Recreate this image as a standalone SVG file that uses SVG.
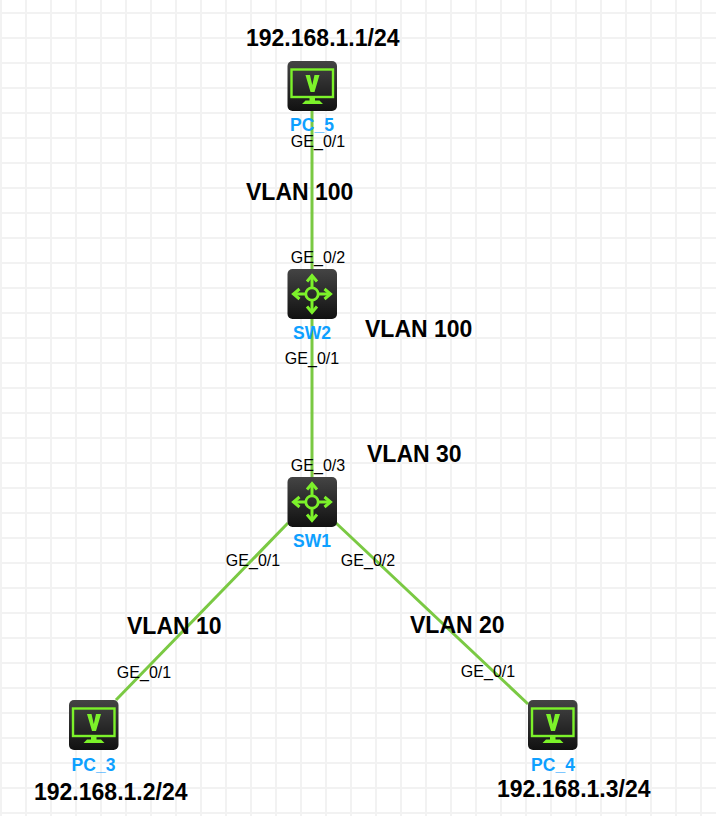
<svg xmlns="http://www.w3.org/2000/svg" xmlns:xlink="http://www.w3.org/1999/xlink" width="716" height="816" viewBox="0 0 716 816">
<style>
.b{font:bold 23px "Liberation Sans",Arial,sans-serif;fill:#000}
.p{font:16px "Liberation Sans",Arial,sans-serif;fill:#000;text-anchor:middle}
.n{font:bold 17.500px "Liberation Sans",Arial,sans-serif;fill:#0ea0ff;text-anchor:middle}
.l{stroke:#7ac943;stroke-width:3;fill:none}
.g{stroke:#f2f2f2;stroke-width:2;fill:none}
.i{stroke:#7cf22a;fill:none}
.f{fill:#7cf22a}
</style>
<defs>
<linearGradient id="bg" x1="0" y1="0" x2="0" y2="1"><stop offset="0" stop-color="#444"/><stop offset="1" stop-color="#111"/></linearGradient>
<path id="grid" d="M1 0V816M26 0V816M51 0V816M76 0V816M101 0V816M126 0V816M151 0V816M176 0V816M201 0V816M226 0V816M251 0V816M276 0V816M301 0V816M326 0V816M351 0V816M376 0V816M401 0V816M426 0V816M451 0V816M476 0V816M501 0V816M526 0V816M551 0V816M576 0V816M601 0V816M626 0V816M651 0V816M676 0V816M701 0V816M0 13H716M0 38H716M0 63H716M0 88H716M0 113H716M0 138H716M0 163H716M0 188H716M0 213H716M0 238H716M0 263H716M0 288H716M0 313H716M0 338H716M0 363H716M0 388H716M0 413H716M0 438H716M0 463H716M0 488H716M0 513H716M0 538H716M0 563H716M0 588H716M0 613H716M0 638H716M0 663H716M0 688H716M0 713H716M0 738H716M0 763H716M0 788H716M0 813H716"/>
<g id="pc"><rect width="49.500" height="50" rx="5" fill="url(#bg)"/><rect x="4" y="8.500" width="41.500" height="27.500" class="i" stroke-width="2.400"/><path class="f" d="M18 14H22.500L24.800 24L27 14H32L27 31H23ZM14.500 43H35.500L32 39.500H27.500V37H22V39.500H18Z"/></g>
<g id="sw"><rect width="49.500" height="50" rx="5" fill="url(#bg)"/><circle cx="24.500" cy="25" r="6.200" class="i" stroke-width="2.800"/><path class="i" stroke-width="3" d="M24.500 18V8M24.500 32V42M17.500 25H8M31.500 25H41"/><path class="i" stroke-width="3" stroke-linejoin="miter" d="M19.500 12.500L24.500 6.500L29.500 12.500M19.500 37.500L24.500 43.500L29.500 37.500M12 20L6 25L12 30M37 20L43 25L37 30"/></g>
</defs>
<use href="#grid" class="g"/>
<g id="connectors">
<path class="l" d="M312 111V269"/>
<path class="l" d="M312 319V477"/>
<path class="l" d="M288 523L116 700"/>
<path class="l" d="M336 523L528 704"/>
</g>
<g id="PC_5"><use href="#pc" x="287.500" y="61"/><text class="n" x="312" y="131">PC_5</text></g>
<g id="SW2"><use href="#sw" x="287.500" y="269"/><text class="n" x="312" y="339">SW2</text></g>
<g id="SW1"><use href="#sw" x="287.500" y="477"/><text class="n" x="312" y="547">SW1</text></g>
<g id="PC_3"><use href="#pc" x="69" y="700"/><text class="n" x="93.500" y="771">PC_3</text></g>
<g id="PC_4"><use href="#pc" x="528" y="700"/><text class="n" x="553" y="771">PC_4</text></g>
<g id="labels">
<text class="p" x="318" y="147">GE_0/1</text>
<text class="p" x="318" y="263">GE_0/2</text>
<text class="p" x="312" y="364">GE_0/1</text>
<text class="p" x="318" y="471">GE_0/3</text>
<text class="p" x="253" y="566">GE_0/1</text>
<text class="p" x="368" y="566">GE_0/2</text>
<text class="p" x="144" y="678">GE_0/1</text>
<text class="p" x="488" y="677">GE_0/1</text>
<text class="b" x="246" y="46">192.168.1.1/24</text>
<text class="b" x="246" y="200">VLAN 100</text>
<text class="b" x="365" y="337">VLAN 100</text>
<text class="b" x="367" y="462">VLAN 30</text>
<text class="b" x="127" y="634">VLAN 10</text>
<text class="b" x="410" y="633">VLAN 20</text>
<text class="b" x="34" y="800">192.168.1.2/24</text>
<text class="b" x="497" y="797">192.168.1.3/24</text>
</g>
</svg>
